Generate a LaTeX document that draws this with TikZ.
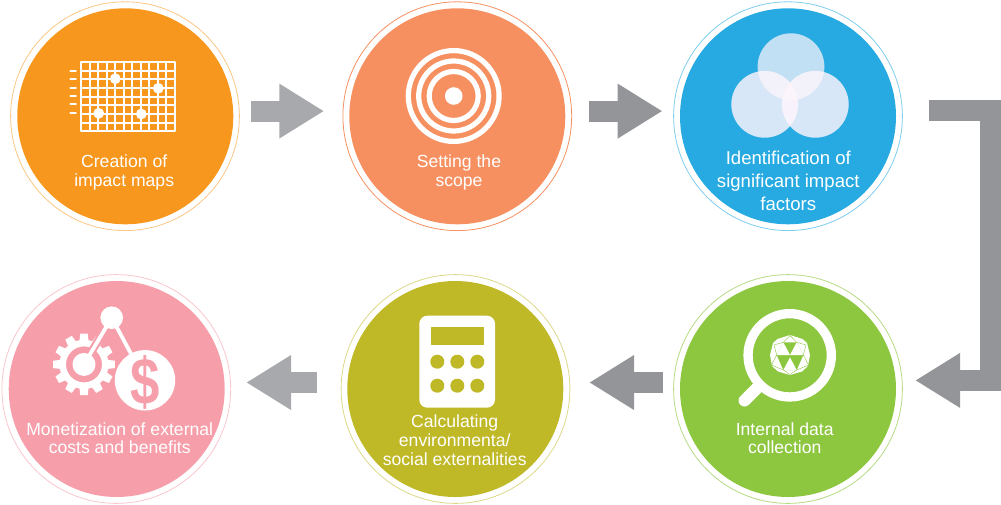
\documentclass[tikz,border=0pt]{standalone}
\usepackage{fontspec}
\setmainfont{Liberation Sans}
\usetikzlibrary{arrows.meta}
\definecolor{cOrange}{HTML}{F8971D}
\definecolor{cCoral}{HTML}{F79060}
\definecolor{cBlue}{HTML}{27AAE1}
\definecolor{cGreen}{HTML}{8DC63F}
\definecolor{cOlive}{HTML}{BFB827}
\definecolor{cPink}{HTML}{F69FAB}
\definecolor{arrowA}{HTML}{A7A9AC}
\definecolor{arrowB}{HTML}{939598}
\definecolor{vennTint}{HTML}{FFF5FC}
\tikzset{
  disc/.style={circle,inner sep=0pt,minimum size=216pt,fill=#1},
  halo/.style={draw=#1,line width=.8pt},
  blockarrow/.style={draw=#1,line width=21pt,line join=miter,-{Triangle[length=44.8pt,width=51.6pt,fill=#1]}},
  caption/.style={text=white,align=center,inner sep=0pt,font=\fontsize{17.6}{#1}\selectfont},
  caption/.default=19
}
\begin{document}
\begin{tikzpicture}[x=1pt,y=-1pt]
\useasboundingbox (0,0) rectangle (1001,504);
% discs
\node[disc=cOrange] (c1) at (125.3,116.3) {};
\node[disc=cCoral]  (c2) at (457.3,116.3) {};
\node[disc=cBlue]   (c3) at (788,116.3) {};
\node[disc=cGreen]  (c6) at (788,389) {};
\node[disc=cOlive]  (c5) at (455.3,389) {};
\node[disc=cPink]   (c4) at (116.7,389) {};
\draw[halo=cOrange!55] (125,116.2) circle (114.4pt);
\draw[halo=cCoral]  (457.3,116.2) circle (114.4pt);
\draw[halo=cBlue!60]   (788,116.2) circle (114.4pt);
\draw[halo=cGreen!65]  (788,389) circle (114.4pt);
\draw[halo=cOlive!55]  (455.5,389) circle (114.4pt);
\draw[halo=cPink!60]   (116.3,389) circle (114.4pt);
% connectors
\draw[blockarrow=arrowA] ([xshift=17.7pt,yshift=5.2pt]c1.east) -- ([xshift=-25pt,yshift=5.2pt]c2.west);
\draw[blockarrow=arrowB] ([xshift=23.7pt,yshift=5.2pt]c2.east) -- ([xshift=-17.3pt,yshift=5.2pt]c3.west);
\coordinate (bend) at (990.15,380.4);
\coordinate (elbowstart) at ([xshift=33pt,yshift=6.1pt]c3.east);
\draw[blockarrow=arrowB] (elbowstart) -- (elbowstart -| bend) -- (bend) -- ([xshift=19pt,yshift=8.6pt]c6.east);
\draw[blockarrow=arrowB] ([xshift=-17.3pt,yshift=6.5pt]c6.west) -- ([xshift=25.7pt,yshift=6.5pt]c5.east);
\draw[blockarrow=arrowA] ([xshift=-30pt,yshift=6.5pt]c5.west) -- ([xshift=21.3pt,yshift=6.5pt]c4.east);
% icon 1: grid
\draw[white,line width=2pt,line join=round] (81.2,62.2) rectangle (174.8,131.2);
\foreach \i in {1,...,10} \draw[white,line width=2pt] (81.2+\i*8.51,62.2) -- (81.2+\i*8.51,131.2);
\foreach \i in {1,...,7} \draw[white,line width=2pt] (81.2,62.2+\i*8.625) -- (174.8,62.2+\i*8.625);
\foreach \x/\y in {115.3/78.7,158.3/88.3,98.7/113.3,141.3/114} \fill[white] (\x,\y) circle (5.4pt);
\foreach \y in {70.7,78.7,88.3,96.3,104.3,112.7} \draw[white,line width=2.3pt,line cap=round] (70.4,\y) -- (75.8,\y);
% icon 2: target
\foreach \r in {45.4,35,24.5} \draw[white,line width=5.2pt] (453.7,96) circle (\r pt);
\fill[white] (453.7,96) circle (8.8pt);
% icon 3: venn
\fill[vennTint,opacity=.72] (791,66.7) circle (33.4pt);
\fill[vennTint,opacity=.82] (764.7,104.3) circle (33.4pt);
\fill[vennTint,opacity=.82] (815.3,104.3) circle (33.4pt);
% icon 4: gear, knob, coin
\begin{scope}[shift={(84,364.4)}]
  \foreach \a in {0,30,...,330} \fill[white,rotate=\a] (-4.6,-23) -- (-3.7,-30.8) -- (3.7,-30.8) -- (4.6,-23) -- cycle;
  \fill[white,even odd rule] (0,0) circle (24.6pt) (0,0) circle (18pt);
\end{scope}
\draw[cPink,line width=8pt] (84,364.4) -- (111.7,317.7);
\draw[white,line width=3.8pt] (84,364.4) -- (111.7,317.7);
\draw[white,line width=3.8pt] (111.7,317.7) -- (145,380);
\fill[white] (84,364.4) circle (11.5pt);
\fill[white] (111.7,317.7) circle (11.3pt);
\fill[white] (145,380.3) circle (30.2pt);
\node[text=cPink,inner sep=0pt,font=\fontsize{60}{60}\selectfont\bfseries] (dollar) at (145.3,382) {\scalebox{.88}[1.1]{\$}};
% icon 5: calculator
\fill[white,rounded corners=8pt] (419.3,315.7) rectangle (495,407.7);
\fill[cOlive] (430.7,326.7) rectangle (484,344.7);
\foreach \x in {437.3,457.3,477.3} \foreach \y in {361.7,385.7} \fill[cOlive] (\x,\y) circle (7pt);
% icon 6: magnifier
\draw[white,line width=9.3pt] (789.7,355.3) circle (41.65pt);
\draw[white,line width=12pt,line cap=round] (758,387) -- (744.5,400.5);
\fill[white] (790,335) -- (802.5,339) -- (807,343) -- (810,355) -- (808,366) -- (802,371.5) -- (790,375) -- (778,371.5) -- (772,366) -- (770,355) -- (773,343) -- (777.5,339) -- cycle;
\fill[cGreen] (783.3,342.3) -- (796.7,342.3) -- (803.3,355) -- (796.7,370) -- (783.3,370) -- (776.7,355) -- cycle;
\fill[white] (783.3,342.3) -- (776.7,355) -- (790,355) -- cycle;
\fill[white] (796.7,342.3) -- (790,355) -- (803.3,355) -- cycle;
\fill[white] (790,357.5) -- (783.3,370) -- (796.7,370) -- cycle;
\draw[cGreen,line width=.4pt] (783.3,342.3) -- (790,335.5) -- (796.7,342.3) -- (806,345) -- (803.3,355) -- (808.5,365) -- (796.7,370) -- (790,374.5) -- (783.3,370) -- (771.5,365) -- (776.7,355) -- (774,345) -- cycle;
% captions
\node[caption] (t1) at (124.2,172.5) {Creation of\\impact maps};
\node[caption] (t2) at (459,172.5) {Setting the\\scope};
\node[caption=23.2,font=\fontsize{18.6}{23.2}\selectfont] (t3) at (788.3,181) {Identification of\\significant impact\\factors};
\node[caption=18.4] (t4) at (119.7,438.2) {Monetization of external\\costs and benefits};
\node[caption] (t5) at (454.7,440) {Calculating\\environmenta/\\social externalities};
\node[caption=18.4] (t6) at (784.7,438.2) {Internal data\\collection};
\end{tikzpicture}
\end{document}
